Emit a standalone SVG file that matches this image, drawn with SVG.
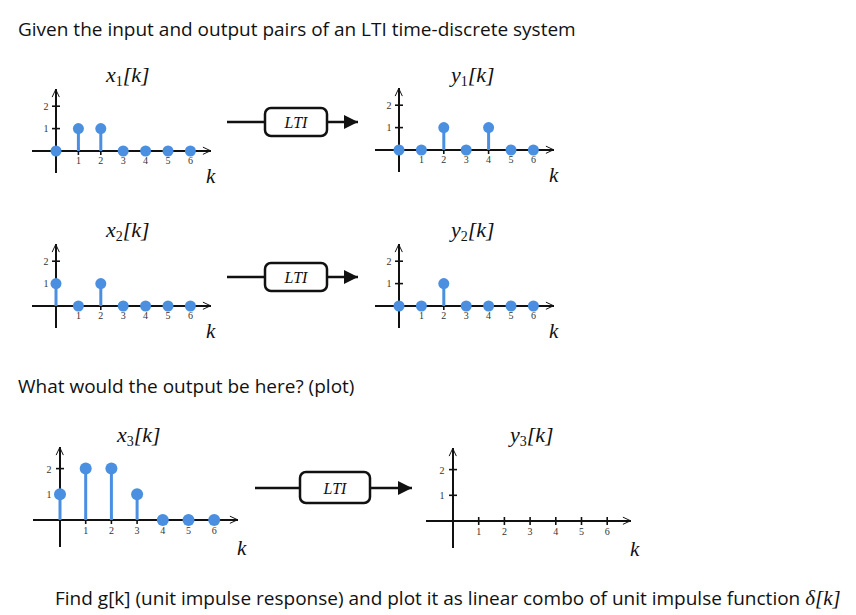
<svg xmlns="http://www.w3.org/2000/svg" width="856" height="615" viewBox="0 0 856 615">
<style>
.ax{stroke:#111;stroke-width:2;fill:none}
.tk{stroke:#111;stroke-width:1.6}
.tl{font-family:"Liberation Serif",serif;font-size:10px;fill:#333;text-anchor:middle}
.st{stroke:#4A8FE0;stroke-width:3}
.dt{fill:#4A8FE0}
.ti{font-family:"Liberation Serif",serif;font-style:italic;font-size:22px;fill:#111}
.sub{font-size:14px;font-style:normal}
.kl{font-family:"Liberation Serif",serif;font-style:italic;font-size:21px;fill:#111}
.bx{fill:#fff;stroke:#111;stroke-width:2.5}
.ln{stroke:#111;stroke-width:2.5;fill:none}
.lt{font-family:"Liberation Serif",serif;font-style:italic;font-size:16px;fill:#111;text-anchor:middle}
.tx{font-family:"Open Sans","Liberation Sans",sans-serif;font-size:19px;fill:#111}
</style>
<defs>
<marker id="ch" viewBox="0 0 10 10" refX="9" refY="5" markerWidth="5" markerHeight="5" orient="auto" markerUnits="userSpaceOnUse" overflow="visible">
<polyline points="-8,-3 9,5 -8,13" fill="none" stroke="#111" stroke-width="2.2" transform="scale(0.9)"/>
</marker>
<marker id="ar" viewBox="0 0 10 10" refX="10" refY="5" markerWidth="14" markerHeight="14" orient="auto" markerUnits="userSpaceOnUse">
<path d="M0,0 L10,5 L0,10 Z" fill="#111"/>
</marker>
<g id="axS">
<line class="ax" x1="0" y1="22" x2="0" y2="-62" marker-end="url(#ch)"/>
<line class="ax" x1="-24" y1="0" x2="155" y2="0" marker-end="url(#ch)"/>
<line class="tk" x1="-4" y1="-22.4" x2="4" y2="-22.4"/><line class="tk" x1="-4" y1="-44.8" x2="4" y2="-44.8"/>
<text class="tl" x="-10" y="-19">1</text><text class="tl" x="-10" y="-41.5">2</text>
<g class="tk"><line x1="22.4" y1="-4" x2="22.4" y2="4"/><line x1="44.8" y1="-4" x2="44.8" y2="4"/><line x1="67.2" y1="-4" x2="67.2" y2="4"/><line x1="89.6" y1="-4" x2="89.6" y2="4"/><line x1="112" y1="-4" x2="112" y2="4"/><line x1="134.4" y1="-4" x2="134.4" y2="4"/></g>
<text class="tl" x="22.4" y="13">1</text><text class="tl" x="44.8" y="13">2</text><text class="tl" x="67.2" y="13">3</text><text class="tl" x="89.6" y="13">4</text><text class="tl" x="112" y="13">5</text><text class="tl" x="134.4" y="13">6</text>
<text class="kl" x="150" y="32">k</text>
</g>
<g id="axL">
<line class="ax" x1="0" y1="27" x2="0" y2="-73" marker-end="url(#ch)"/>
<line class="ax" x1="-27" y1="0" x2="178" y2="0" marker-end="url(#ch)"/>
<line class="tk" x1="-4" y1="-25.7" x2="4" y2="-25.7"/><line class="tk" x1="-4" y1="-51.4" x2="4" y2="-51.4"/>
<text class="tl" x="-11" y="-22">1</text><text class="tl" x="-11" y="-47.5">2</text>
<g class="tk"><line x1="25.7" y1="-4" x2="25.7" y2="4"/><line x1="51.4" y1="-4" x2="51.4" y2="4"/><line x1="77.1" y1="-4" x2="77.1" y2="4"/><line x1="102.8" y1="-4" x2="102.8" y2="4"/><line x1="128.5" y1="-4" x2="128.5" y2="4"/><line x1="154.2" y1="-4" x2="154.2" y2="4"/></g>
<text class="tl" x="25.7" y="14">1</text><text class="tl" x="51.4" y="14">2</text><text class="tl" x="77.1" y="14">3</text><text class="tl" x="102.8" y="14">4</text><text class="tl" x="128.5" y="14">5</text><text class="tl" x="154.2" y="14">6</text>
<text class="kl" x="177" y="35">k</text>
</g>
</defs>

<text class="tx" x="18" y="36">Given the input and output pairs of an LTI time-discrete system</text>
<text class="tx" x="18" y="393">What would the output be here? (plot)</text>
<text class="tx" x="55" y="605">Find g[k] (unit impulse response) and plot it as linear combo of unit impulse function <tspan class="kl" font-size="23px">δ[k]</tspan></text>

<g id="x1plot" transform="translate(56,151)">
<use href="#axS"/>
<text class="ti" x="50" y="-69">x<tspan class="sub" dy="4">1</tspan><tspan dy="-4">[k]</tspan></text>
<line class="st" x1="22.4" y1="0" x2="22.4" y2="-22.4"/><line class="st" x1="44.8" y1="0" x2="44.8" y2="-22.4"/>
<g class="dt"><circle cx="0" cy="0" r="5.5"/><circle cx="22.4" cy="-22.4" r="5.5"/><circle cx="44.8" cy="-22.4" r="5.5"/><circle cx="67.2" cy="0" r="5.5"/><circle cx="89.6" cy="0" r="5.5"/><circle cx="112" cy="0" r="5.5"/><circle cx="134.4" cy="0" r="5.5"/></g>
</g>
<g id="y1plot" transform="translate(399,150)">
<use href="#axS"/>
<text class="ti" x="52" y="-68">y<tspan class="sub" dy="4">1</tspan><tspan dy="-4">[k]</tspan></text>
<line class="st" x1="44.8" y1="0" x2="44.8" y2="-22.4"/><line class="st" x1="89.6" y1="0" x2="89.6" y2="-22.4"/>
<g class="dt"><circle cx="0" cy="0" r="5.5"/><circle cx="22.4" cy="0" r="5.5"/><circle cx="44.8" cy="-22.4" r="5.5"/><circle cx="67.2" cy="0" r="5.5"/><circle cx="89.6" cy="-22.4" r="5.5"/><circle cx="112" cy="0" r="5.5"/><circle cx="134.4" cy="0" r="5.5"/></g>
</g>
<g id="x2plot" transform="translate(56,306)">
<use href="#axS"/>
<text class="ti" x="50" y="-69">x<tspan class="sub" dy="4">2</tspan><tspan dy="-4">[k]</tspan></text>
<line class="st" x1="0" y1="0" x2="0" y2="-22.4"/><line class="st" x1="44.8" y1="0" x2="44.8" y2="-22.4"/>
<g class="dt"><circle cx="0" cy="-22.4" r="5.5"/><circle cx="22.4" cy="0" r="5.5"/><circle cx="44.8" cy="-22.4" r="5.5"/><circle cx="67.2" cy="0" r="5.5"/><circle cx="89.6" cy="0" r="5.5"/><circle cx="112" cy="0" r="5.5"/><circle cx="134.4" cy="0" r="5.5"/></g>
</g>
<g id="y2plot" transform="translate(399,306)">
<use href="#axS"/>
<text class="ti" x="52" y="-69">y<tspan class="sub" dy="4">2</tspan><tspan dy="-4">[k]</tspan></text>
<line class="st" x1="44.8" y1="0" x2="44.8" y2="-22.4"/>
<g class="dt"><circle cx="0" cy="0" r="5.5"/><circle cx="22.4" cy="0" r="5.5"/><circle cx="44.8" cy="-22.4" r="5.5"/><circle cx="67.2" cy="0" r="5.5"/><circle cx="89.6" cy="0" r="5.5"/><circle cx="112" cy="0" r="5.5"/><circle cx="134.4" cy="0" r="5.5"/></g>
</g>
<g id="x3plot" transform="translate(60,520)">
<use href="#axL"/>
<text class="ti" x="57" y="-78" font-size="24px">x<tspan class="sub" dy="4" font-size="15px">3</tspan><tspan dy="-4">[k]</tspan></text>
<line class="st" x1="0" y1="0" x2="0" y2="-25.7"/><line class="st" x1="25.7" y1="0" x2="25.7" y2="-51.4"/><line class="st" x1="51.4" y1="0" x2="51.4" y2="-51.4"/><line class="st" x1="77.1" y1="0" x2="77.1" y2="-25.7"/>
<g class="dt"><circle cx="0" cy="-25.7" r="6"/><circle cx="25.7" cy="-51.4" r="6"/><circle cx="51.4" cy="-51.4" r="6"/><circle cx="77.1" cy="-25.7" r="6"/><circle cx="102.8" cy="0" r="6"/><circle cx="128.5" cy="0" r="6"/><circle cx="154.2" cy="0" r="6"/></g>
</g>
<g id="y3plot" transform="translate(453,521)">
<use href="#axL"/>
<text class="ti" x="57" y="-79" font-size="24px">y<tspan class="sub" dy="4" font-size="15px">3</tspan><tspan dy="-4">[k]</tspan></text>
</g>

<g id="lti1"><rect class="bx" x="265" y="108" width="62" height="28" rx="6"/><text class="lt" x="296" y="128">LTI</text></g>
<g id="lti2"><rect class="bx" x="265" y="263" width="62" height="28" rx="6"/><text class="lt" x="296" y="283">LTI</text></g>
<g id="lti3"><rect class="bx" x="300" y="472" width="70" height="31" rx="6"/><text class="lt" x="335" y="494" font-size="17px">LTI</text></g>

<g id="connectors">
<line class="ln" x1="227" y1="122" x2="265" y2="122"/>
<line class="ln" x1="327" y1="122" x2="358" y2="122" marker-end="url(#ar)"/>
<line class="ln" x1="227" y1="277" x2="265" y2="277"/>
<line class="ln" x1="327" y1="277" x2="358" y2="277" marker-end="url(#ar)"/>
<line class="ln" x1="255" y1="488" x2="300" y2="488"/>
<line class="ln" x1="370" y1="488" x2="412" y2="488" marker-end="url(#ar)"/>
</g>
</svg>
